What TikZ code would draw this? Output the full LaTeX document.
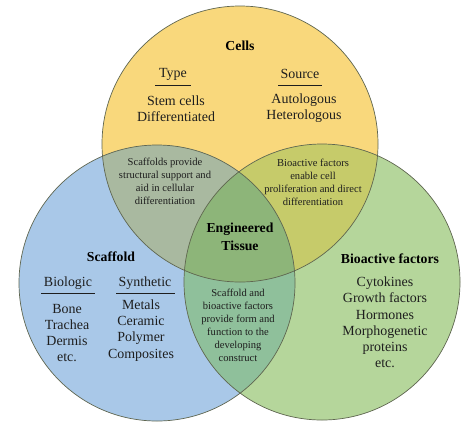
\documentclass[tikz,border=0pt]{standalone}
\usepackage{fontspec}
\IfFontExistsTF{LiberationSerif-Regular.ttf}
  {\setmainfont{LiberationSerif}[Extension=.ttf, UprightFont=*-Regular, BoldFont=*-Bold, ItalicFont=*-Italic, BoldItalicFont=*-BoldItalic]}
  {\setmainfont{Liberation Serif}}
\definecolor{cellY}{HTML}{F9D87C}
\definecolor{scafB}{HTML}{A9C8E8}
\definecolor{bioG}{HTML}{B5D69B}
\definecolor{ovTL}{HTML}{A9B9A0}
\definecolor{ovTR}{HTML}{C6CB6A}
\definecolor{ovB}{HTML}{8FC09B}
\definecolor{ovC}{HTML}{8DB579}
\definecolor{edge}{HTML}{5F6650}
\definecolor{txt}{HTML}{1E1E1E}
\tikzset{
  title/.style={font=\fontsize{13.8}{16}\selectfont\bfseries, text=black, inner sep=0pt},
  head/.style={font=\fontsize{14}{16}\selectfont, text=txt, inner sep=0pt},
  list/.style={font=\fontsize{14}{16.3}\selectfont, text=txt, align=center, inner sep=0pt},
  small/.style={font=\fontsize{10.6}{13}\selectfont, text=txt, align=center, inner sep=0pt},
  uline/.style={draw=txt, line width=0.9pt},
  ring/.style={draw=edge, line width=0.7pt}
}
\begin{document}
\begin{tikzpicture}[x=1bp,y=-1bp]
\useasboundingbox (0,0) rectangle (474,424);
\fill[white] (0,0) rectangle (474,424);
\def\R{138}
\coordinate (cT) at (240,144);
\coordinate (cL) at (157,283);
\coordinate (cR) at (322,282);
% base fills
\fill[cellY] (cT) circle (\R);
\fill[scafB] (cL) circle (\R);
\fill[bioG] (cR) circle (\R);
% pairwise overlaps
\begin{scope}
  \clip (cT) circle (\R);
  \fill[ovTL] (cL) circle (\R);
  \fill[ovTR] (cR) circle (\R);
\end{scope}
\begin{scope}
  \clip (cL) circle (\R);
  \fill[ovB] (cR) circle (\R);
\end{scope}
\begin{scope}
  \clip (cT) circle (\R);
  \clip (cL) circle (\R);
  \fill[ovC] (cR) circle (\R);
\end{scope}
% outlines
\draw[ring] (cT) circle (\R);
\draw[ring] (cL) circle (\R);
\draw[ring] (cR) circle (\R);

% Cells
\node[title] (cells) at (240,46) {Cells};
\node[head] (type) at (173,74) {Type};
\node[head] (source) at (300,74) {Source};
\draw[uline] (155,85.5) -- (191,85.5);
\draw[uline] (278,85.5) -- (322,85.5);
\node[list] (typelist) at (176,108.5) {Stem cells\\Differentiated};
\node[list] (srclist) at (304,108.5) {Autologous\\Heterologous};

% overlaps
\node[small] (tl) at (165,181.5) {Scaffolds provide\\structural support and\\aid in cellular\\differentiation};
\node[small] (tr) at (313,182.5) {Bioactive factors\\enable cell\\proliferation and direct\\differentiation};
\node[small] (bt) at (238,325.5) {Scaffold and\\bioactive factors\\provide form and\\function to the\\developing\\construct};
\node[title, align=center, font=\fontsize{13.8}{18}\selectfont\bfseries] (eng) at (240,237) {Engineered\\Tissue};

% Scaffold
\node[title] (scaffold) at (111,257) {Scaffold};
\node[head] (bio) at (68,283) {Biologic};
\node[head] (syn) at (145,283) {Synthetic};
\draw[uline] (41,293.5) -- (95,293.5);
\draw[uline] (116,293.5) -- (175,293.5);
\node[list] (biolist) at (67,333) {Bone\\Trachea\\Dermis\\etc.};
\node[list] (synlist) at (141,330.5) {Metals\\Ceramic\\Polymer\\Composites};

% Bioactive factors
\node[title] (bioact) at (390,259) {Bioactive factors};
\node[list] (bioactlist) at (385,322.5) {Cytokines\\Growth factors\\Hormones\\Morphogenetic\\proteins\\etc.};
\end{tikzpicture}
\end{document}
